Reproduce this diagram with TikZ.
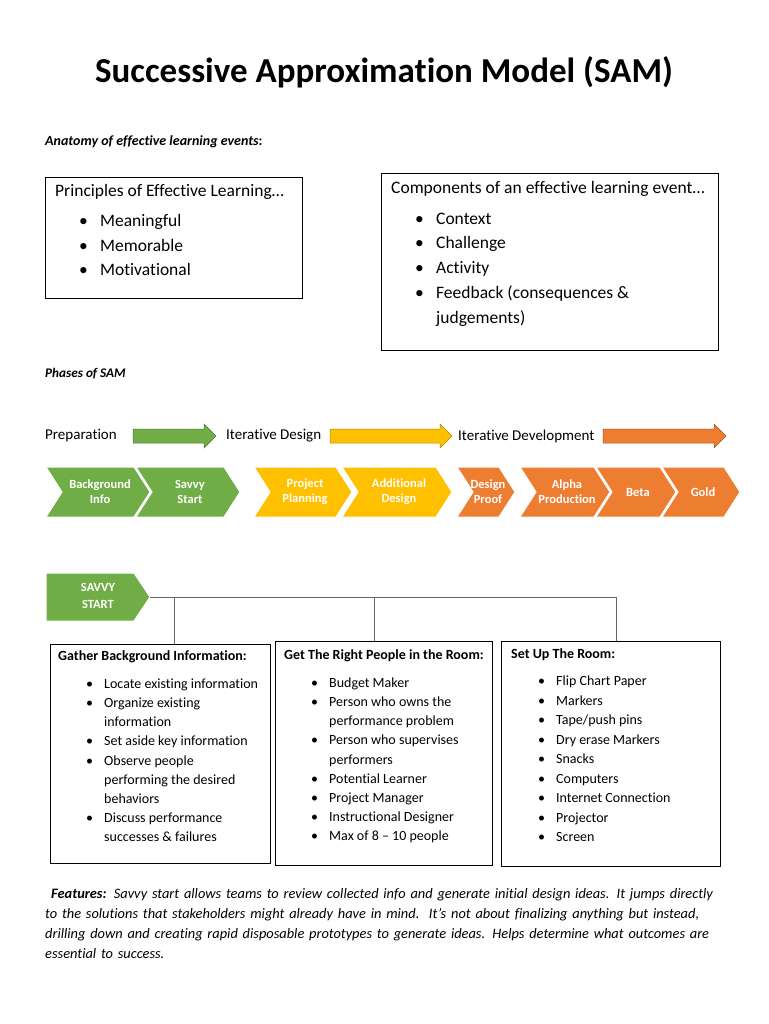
\documentclass[tikz,border=0pt]{standalone}
\usepackage{fontspec}
\setmainfont{Carlito}[Ligatures=NoCommon]
\definecolor{cg}{HTML}{70AD47}
\definecolor{cy}{HTML}{FFC000}
\definecolor{co}{HTML}{ED7D31}
\newcommand{\bb}[1]{\makebox[18pt][l]{\textbullet}#1}
\newcommand{\bbc}[1]{\hspace*{18pt}#1}
\begin{document}
\begin{tikzpicture}[x=1pt,y=-1pt,
  box/.style={draw=black,line width=0.8pt},
  txt/.style={anchor=north west,inner sep=0pt,align=left},
  chtxt/.style={text=white,font=\fontsize{12.5}{15}\selectfont\bfseries,align=center},
  conn/.style={draw=gray!80!black,line width=0.7pt}]
\useasboundingbox[fill=white] (0,0) rectangle (768,1024);
\node[inner sep=0pt,font=\fontsize{35}{40}\selectfont\bfseries] (title) at (384,72) {Successive Approximation Model (SAM)};
\node[txt,font=\fontsize{14}{16}\selectfont\bfseries\itshape] (anat) at (45,135) {Anatomy of effective learning events\textup{:}};
% boxes top
\draw[box] (45,177) rectangle (302,298);
\node[txt,font=\fontsize{17.5}{24.5}\selectfont] (p1) at (55,184) {Principles of Effective Learning…\\[6pt]
\hspace*{24pt}\makebox[21pt][l]{\textbullet}Meaningful\\
\hspace*{24pt}\makebox[21pt][l]{\textbullet}Memorable\\
\hspace*{24pt}\makebox[21pt][l]{\textbullet}Motivational};
\draw[box] (381,173) rectangle (718,350);
\node[txt,font=\fontsize{17.5}{24.8}\selectfont] (p2) at (391,181) {Components of an effective learning event…\\[6pt]
\hspace*{24pt}\makebox[21pt][l]{\textbullet}Context\\
\hspace*{24pt}\makebox[21pt][l]{\textbullet}Challenge\\
\hspace*{24pt}\makebox[21pt][l]{\textbullet}Activity\\
\hspace*{24pt}\makebox[21pt][l]{\textbullet}Feedback (consequences \&\\
\hspace*{45pt}judgements)};
\node[txt,font=\fontsize{13.2}{15}\selectfont\bfseries\itshape] (phases) at (45,368) {Phases of SAM};
% phase arrows
\node[anchor=west,inner sep=0pt,font=\fontsize{15}{18}\selectfont] (prep) at (45,436) {Preparation};
\node[anchor=west,inner sep=0pt,font=\fontsize{15}{18}\selectfont] (idz) at (226,436) {Iterative Design};
\node[anchor=west,inner sep=0pt,font=\fontsize{15}{18}\selectfont] (idv) at (458,436) {Iterative Development};
\foreach \a/\b/\c in {133/216/cg,330/452/cy,603/726/co}{
  \fill[\c,draw=\c!70!black,line width=0.5pt] (\a,429)--(\b-12,429)--(\b-12,424)--(\b,436)--(\b-12,448)--(\b-12,443)--(\a,443)--cycle;}
% chevrons
\foreach \a/\b/\c/\n/\t in {46/150/cg/c1/Background\\Info,136/240/cg/c2/Savvy\\Start,254/352/cy/c3/Project\\Planning,342/452/cy/c4/Additional\\Design,457/515/co/c5/Design\\Proof,520/610/co/c6/Alpha\\Production,596/676/co/c7/Beta,662/740/co/c8/Gold}{
  \fill[\c,draw=white,line width=1pt] (\a,467)--(\b-16,467)--(\b,492)--(\b-16,517)--(\a,517)--(\a+16,492)--cycle;
  \node[chtxt] (\n) at ({(\a+\b)/2+2},492) {\t};}
% savvy start
\fill[cg,draw=white,line width=1pt] (46,573)--(134,573)--(150,597)--(134,621)--(46,621)--(46,573)--cycle;
\node[chtxt,font=\fontsize{12.5}{17}\selectfont\bfseries] (ss) at (98,596) {SAVVY\\START};
\coordinate (j1) at (174,597);
\coordinate (j2) at (374,597);
\coordinate (j3) at (616,597);
\draw[conn] (150,597) -- (j3);
% bottom boxes
\draw[box] (50,644) rectangle (270,863);
\draw[box] (275,641) rectangle (492,865);
\draw[box] (501,641) rectangle (720,866);
\coordinate (t1) at (174,644);
\coordinate (t2) at (374,641);
\coordinate (t3) at (616,641);
\draw[conn] (j1)--(t1); \draw[conn] (j2)--(t2); \draw[conn] (j3)--(t3);
\node[txt,font=\fontsize{14}{19.2}\selectfont] (ga) at (58,650) {\textbf{Gather Background Information:}\\[9pt]
\hspace*{28pt}\bb{Locate existing information}\\
\hspace*{28pt}\bb{Organize existing}\\
\hspace*{28pt}\bbc{information}\\
\hspace*{28pt}\bb{Set aside key information}\\
\hspace*{28pt}\bb{Observe people}\\
\hspace*{28pt}\bbc{performing the desired}\\
\hspace*{28pt}\bbc{behaviors}\\
\hspace*{28pt}\bb{Discuss performance}\\
\hspace*{28pt}\bbc{successes \& failures}};
\node[txt,font=\fontsize{14}{19.2}\selectfont] (gb) at (284,649) {\textbf{Get The Right People in the Room:}\\[9pt]
\hspace*{27pt}\bb{Budget Maker}\\
\hspace*{27pt}\bb{Person who owns the}\\
\hspace*{27pt}\bbc{performance problem}\\
\hspace*{27pt}\bb{Person who supervises}\\
\hspace*{27pt}\bbc{performers}\\
\hspace*{27pt}\bb{Potential Learner}\\
\hspace*{27pt}\bb{Project Manager}\\
\hspace*{27pt}\bb{Instructional Designer}\\
\hspace*{27pt}\bb{Max of 8 – 10 people}};
\node[txt,font=\fontsize{14}{19.5}\selectfont] (gc) at (511,648) {\textbf{Set Up The Room:}\\[8pt]
\hspace*{27pt}\bb{Flip Chart Paper}\\
\hspace*{27pt}\bb{Markers}\\
\hspace*{27pt}\bb{Tape/push pins}\\
\hspace*{27pt}\bb{Dry erase Markers}\\
\hspace*{27pt}\bb{Snacks}\\
\hspace*{27pt}\bb{Computers}\\
\hspace*{27pt}\bb{Internet Connection}\\
\hspace*{27pt}\bb{Projector}\\
\hspace*{27pt}\bb{Screen}};
\node[txt,text width=680pt,font=\fontsize{14.4}{20}\selectfont\itshape] (feat) at (45,888) {\hspace*{6pt}\textbf{Features:} Savvy start allows teams to review collected info and generate initial design ideas. It jumps directly to the solutions that stakeholders might already have in mind.\ \ It’s not about finalizing anything but instead, drilling down and creating rapid disposable prototypes to generate ideas. Helps determine what outcomes are essential to success.};
\end{tikzpicture}
\end{document}
